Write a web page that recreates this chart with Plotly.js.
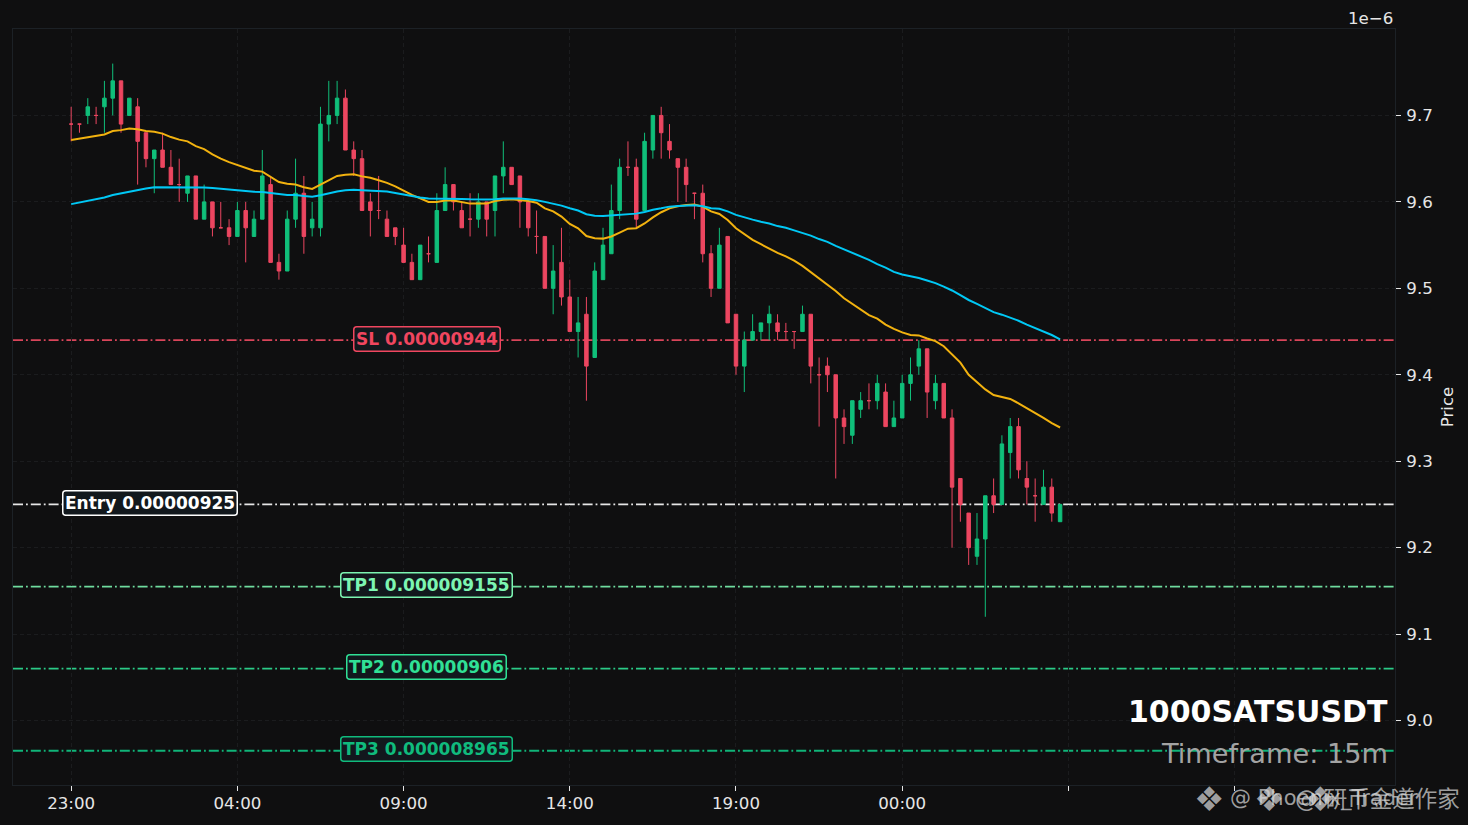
<!DOCTYPE html>
<html>
<head>
<meta charset="utf-8">
<script src="https://cdn.plot.ly/plotly-3.0.1.min.js"></script>
<style>html,body{margin:0;padding:0;background:#0f0f10;}#chart{width:1468px;height:825px;}</style>
</head>
<body>
<div id="chart"></div>
<script>
const opens  = [9.69,9.69,9.70,9.70,9.71,9.72,9.74,9.70,9.71,9.68,9.65,9.66,9.64,9.62,9.61,9.63,9.58,9.60,9.57,9.57,
                9.56,9.59,9.56,9.58,9.62,9.53,9.52,9.58,9.61,9.57,9.57,9.69,9.70,9.72,9.66,9.65,9.60,9.59,9.58,9.57,
                9.55,9.53,9.51,9.54,9.53,9.59,9.62,9.59,9.58,9.58,9.60,9.59,9.63,9.64,9.63,9.60,9.56,9.56,9.50,9.53,
                9.49,9.45,9.47,9.42,9.51,9.54,9.59,9.64,9.64,9.59,9.66,9.70,9.67,9.65,9.64,9.61,9.61,9.54,9.50,9.56,
                9.47,9.41,9.44,9.45,9.46,9.46,9.45,9.45,9.45,9.47,9.40,9.41,9.40,9.35,9.33,9.36,9.37,9.37,9.38,9.34,
                9.35,9.39,9.41,9.43,9.37,9.39,9.35,9.28,9.24,9.19,9.21,9.26,9.25,9.31,9.34,9.28,9.26,9.25,9.27,9.23];
const highs  = [9.71,9.69,9.72,9.71,9.74,9.76,9.74,9.72,9.72,9.68,9.66,9.68,9.66,9.65,9.63,9.63,9.62,9.60,9.60,9.58,
                9.60,9.60,9.59,9.66,9.63,9.54,9.59,9.65,9.63,9.60,9.71,9.74,9.74,9.73,9.67,9.66,9.61,9.63,9.59,9.57,
                9.57,9.54,9.55,9.56,9.61,9.64,9.62,9.60,9.61,9.61,9.60,9.63,9.67,9.64,9.63,9.60,9.59,9.56,9.55,9.57,
                9.51,9.49,9.49,9.53,9.57,9.62,9.65,9.67,9.65,9.68,9.70,9.71,9.69,9.65,9.65,9.61,9.62,9.55,9.57,9.56,
                9.47,9.45,9.47,9.46,9.48,9.47,9.46,9.45,9.48,9.47,9.42,9.42,9.40,9.36,9.37,9.38,9.39,9.40,9.39,9.37,
                9.40,9.42,9.44,9.43,9.40,9.39,9.36,9.28,9.24,9.24,9.26,9.28,9.33,9.35,9.35,9.30,9.28,9.29,9.28,9.25];
const lows   = [9.67,9.68,9.69,9.69,9.68,9.70,9.68,9.70,9.62,9.64,9.61,9.64,9.62,9.60,9.60,9.58,9.58,9.56,9.57,9.55,
                9.56,9.53,9.56,9.58,9.53,9.51,9.52,9.57,9.54,9.56,9.56,9.67,9.69,9.66,9.63,9.59,9.56,9.58,9.56,9.55,
                9.53,9.51,9.51,9.53,9.53,9.59,9.59,9.57,9.56,9.57,9.56,9.56,9.61,9.62,9.57,9.56,9.54,9.50,9.47,9.48,
                9.45,9.42,9.37,9.42,9.51,9.54,9.58,9.63,9.57,9.59,9.65,9.65,9.65,9.60,9.60,9.58,9.53,9.49,9.50,9.46,
                9.40,9.38,9.44,9.44,9.44,9.44,9.44,9.43,9.45,9.39,9.34,9.38,9.28,9.32,9.32,9.35,9.36,9.36,9.34,9.34,
                9.35,9.37,9.40,9.35,9.36,9.35,9.20,9.23,9.18,9.18,9.12,9.24,9.25,9.28,9.28,9.25,9.23,9.25,9.23,9.23];
const closes = [9.69,9.69,9.71,9.70,9.72,9.74,9.69,9.72,9.67,9.65,9.66,9.64,9.62,9.62,9.63,9.58,9.60,9.57,9.57,9.56,
                9.59,9.57,9.58,9.63,9.53,9.52,9.58,9.61,9.56,9.58,9.69,9.70,9.72,9.66,9.65,9.59,9.59,9.59,9.56,9.56,
                9.53,9.51,9.55,9.54,9.59,9.62,9.60,9.57,9.58,9.60,9.58,9.63,9.64,9.62,9.60,9.57,9.56,9.50,9.52,9.49,
                9.45,9.46,9.41,9.52,9.55,9.59,9.64,9.64,9.58,9.67,9.70,9.68,9.66,9.64,9.62,9.61,9.54,9.50,9.55,9.46,
                9.41,9.44,9.45,9.46,9.47,9.45,9.45,9.45,9.47,9.41,9.40,9.40,9.35,9.34,9.37,9.37,9.37,9.39,9.34,9.35,
                9.39,9.40,9.43,9.38,9.39,9.35,9.27,9.25,9.20,9.21,9.26,9.25,9.32,9.34,9.29,9.27,9.26,9.27,9.24,9.25];
const emaGold = [9.6715,9.673,9.675,9.6765,9.678,9.682,9.683,9.685,9.684,9.682,9.681,9.679,9.675,9.672,9.670,9.6645,9.661,9.655,9.650,9.646,
                 9.6425,9.639,9.636,9.635,9.629,9.623,9.621,9.620,9.617,9.615,9.620,9.625,9.630,9.6315,9.632,9.6295,9.628,9.625,9.622,9.618,
                 9.613,9.608,9.604,9.600,9.600,9.6015,9.6015,9.5995,9.598,9.598,9.598,9.601,9.6025,9.603,9.602,9.601,9.599,9.5925,9.589,9.583,
                 9.5745,9.5695,9.5605,9.558,9.5575,9.560,9.5645,9.569,9.5695,9.575,9.582,9.588,9.5925,9.595,9.5965,9.597,9.5945,9.589,9.586,9.579,
                 9.5695,9.5625,9.556,9.551,9.546,9.541,9.537,9.532,9.526,9.519,9.512,9.504,9.497,9.4885,9.482,9.475,9.469,9.465,9.458,9.453,
                 9.449,9.446,9.4455,9.442,9.439,9.433,9.4235,9.414,9.400,9.391,9.383,9.3765,9.374,9.372,9.367,9.361,9.355,9.350,9.344,9.339];
const emaCyan = [9.5974,9.5993,9.601,9.603,9.605,9.608,9.610,9.612,9.614,9.6155,9.617,9.617,9.6175,9.6175,9.6175,9.617,9.6167,9.616,9.615,9.614,
                 9.613,9.6125,9.6117,9.6113,9.6105,9.609,9.608,9.608,9.6067,9.606,9.6076,9.610,9.612,9.6134,9.614,9.6134,9.613,9.6127,9.612,9.6103,
                 9.6084,9.6065,9.605,9.604,9.604,9.604,9.604,9.6034,9.603,9.6027,9.6027,9.603,9.604,9.604,9.604,9.603,9.602,9.600,9.598,9.5957,
                 9.5926,9.590,9.5857,9.584,9.5837,9.5845,9.5853,9.586,9.5864,9.5884,9.591,9.5926,9.5945,9.5953,9.5957,9.596,9.595,9.5926,9.592,9.589,
                 9.585,9.582,9.5795,9.577,9.575,9.572,9.570,9.567,9.564,9.561,9.557,9.5537,9.549,9.545,9.541,9.537,9.533,9.528,9.524,9.519,
                 9.516,9.514,9.512,9.509,9.506,9.502,9.4975,9.492,9.4865,9.482,9.477,9.4725,9.4695,9.466,9.4625,9.458,9.454,9.4505,9.446,9.441];
const tickPositions = [0,20,40,60,80,100,120,140];
const tickLabels = ["23:00","04:00","09:00","14:00","19:00","00:00","",""];
const priceTicks = [9.0,9.1,9.2,9.3,9.4,9.5,9.6,9.7];
const levelNames = ["SL 0.00000944","Entry 0.00000925","TP1 0.000009155","TP2 0.00000906","TP3 0.000008965"];
const levelValues = [9.44,9.25,9.155,9.06,8.965];
const levelColors = ["#f0465f","#ffffff","#7df5b2","#30e096","#10bb7d"];
const lineColors  = ["#d9455a","#e6e6e6","#6fdc9e","#2bcb87","#10b478"];
const labelSlots  = [42.8,9.5,42.8,42.8,42.8];

const UP="#10bf7a", DOWN="#ec4660";
const FONT="DejaVu Sans";
const idx = closes.map((_,i)=>i);
const greens = idx.filter(i=>closes[i]>opens[i]);
const reds   = idx.filter(i=>!(closes[i]>opens[i]));
function candles(ids,color){
  return {type:"candlestick",x:ids,open:ids.map(i=>opens[i]),high:ids.map(i=>highs[i]),low:ids.map(i=>lows[i]),close:ids.map(i=>closes[i]),
    increasing:{line:{color,width:1},fillcolor:color},decreasing:{line:{color,width:1},fillcolor:color},
    whiskerwidth:0,showlegend:false,hoverinfo:"skip"};
}
const traces=[
  candles(greens,UP),
  candles(reds,DOWN),
  {type:"scatter",mode:"lines",x:idx,y:emaGold,line:{color:"#f2b20f",width:2},showlegend:false,hoverinfo:"skip"},
  {type:"scatter",mode:"lines",x:idx,y:emaCyan,line:{color:"#00c8f5",width:2},showlegend:false,hoverinfo:"skip"}
];
const shapes=levelValues.map((v,i)=>({type:"line",xref:"paper",x0:0,x1:1,yref:"y",y0:v,y1:v,layer:"below",
  line:{color:lineColors[i],width:1.8,dash:"10px,3px,1.8px,3px"}}));
const annotations=levelNames.map((t,i)=>({xref:"x",yref:"y",x:labelSlots[i],y:levelValues[i],text:"<b>"+t+"</b>",showarrow:false,
  yshift:1.5,font:{family:FONT,size:17,color:levelColors[i]},bgcolor:"#12181d",bordercolor:levelColors[i],borderwidth:1.5,borderpad:1.5}));
annotations.push(
 {xref:"paper",yref:"paper",x:1,xshift:0,y:1,yanchor:"bottom",xanchor:"right",yshift:-1,text:"1e−6",showarrow:false,font:{family:FONT,size:16.67,color:"#e6e6e6"}},
 {xref:"paper",yref:"paper",x:1,xshift:-5,xanchor:"right",y:0.0975,yanchor:"middle",text:"<b>1000SATSUSDT</b>",showarrow:false,font:{family:FONT,size:30,color:"#ffffff"}},
 {xref:"paper",yref:"paper",x:1,xshift:-5,xanchor:"right",y:0.0415,yanchor:"middle",text:"Timeframe: 15m",showarrow:false,font:{family:FONT,size:27.2,color:"#a3a3a3"}}
);
const wm=[["❖",1209,34],["@ Phoenix_Trader",1228,21],["❖",1269,34],["@ 研币金道作家",1293,22.5],["❖",1320,34]];
wm.forEach(w=>annotations.push({xref:"paper",yref:"paper",x:(w[1]-12.5)/1382.5,xanchor:w[0]==="❖"?"center":"left",y:-0.0185,yanchor:"middle",
  text:w[0],showarrow:false,font:{family:"DejaVu Sans, Noto Sans CJK SC",size:w[2],color:"rgba(215,215,215,0.72)"}}));

const layout={width:1468,height:825,paper_bgcolor:"#0f0f10",plot_bgcolor:"#0f0f10",showlegend:false,boxgap:0.4,
  margin:{l:12.5,r:73,t:29,b:40,pad:0},font:{family:FONT,size:16.67,color:"#e6e6e6"},
  xaxis:{type:"linear",range:[-7,159.3],rangeslider:{visible:false},tickmode:"array",tickvals:tickPositions,ticktext:tickLabels,
    ticks:"outside",ticklen:5,tickwidth:1,tickcolor:"#e6e6e6",tickfont:{family:FONT,size:16.67,color:"#e6e6e6"},ticklabelstandoff:-2,
    showgrid:true,gridcolor:"#1b1c1e",griddash:"4px,3px",gridwidth:1,zeroline:false,showline:true,mirror:true,linecolor:"#1c2126",linewidth:1,automargin:false},
  yaxis:{side:"right",range:[8.9254,9.8],tickmode:"array",tickvals:priceTicks,ticktext:priceTicks.map(v=>v.toFixed(1)),
    ticks:"outside",ticklen:5,tickwidth:1,tickcolor:"#e6e6e6",tickfont:{family:FONT,size:16.67,color:"#e6e6e6"},ticklabelstandoff:2,
    showgrid:true,gridcolor:"#1b1c1e",griddash:"4px,3px",gridwidth:1,zeroline:false,showline:true,mirror:true,linecolor:"#1c2126",linewidth:1,automargin:false,
    title:{text:"Price",font:{family:FONT,size:16.67,color:"#e6e6e6"},standoff:9}},
  shapes,annotations};
Plotly.newPlot("chart",traces,layout,{displayModeBar:false,staticPlot:true}).then(()=>{
  document.querySelectorAll(".annotation rect.bg").forEach(r=>{r.setAttribute("rx","3");r.setAttribute("ry","3");});
});
</script>
</body>
</html>
